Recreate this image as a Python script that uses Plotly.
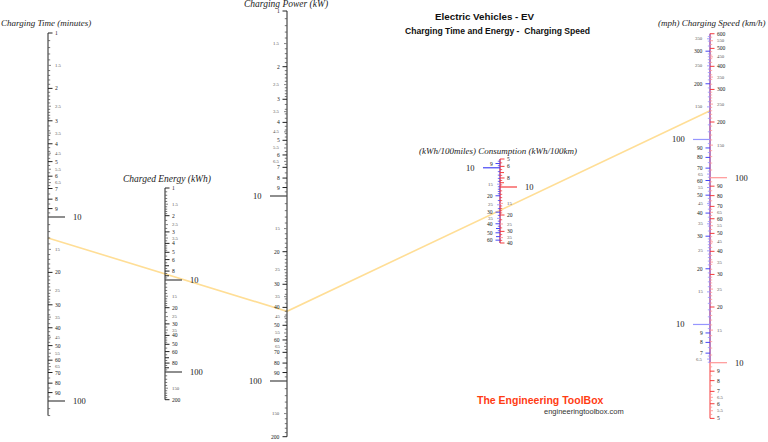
import numpy as np
import plotly.graph_objects as go

# ---------------- data: scale tick values ----------------
time_major = [1, 2, 3, 4, 5, 6, 7, 8, 9, 20, 30, 40, 50, 60, 70, 80, 90]
time_half = [1.5, 2.5, 3.5, 4.5, 5.5, 6.5, 15, 25, 35, 45, 55, 65]
time_decade = [10, 100]

energy_major = [1, 2, 3, 4, 5, 6, 8, 20, 30, 40, 50, 60, 80, 200]
energy_plain = [7, 9, 70, 90]
energy_half = [1.5, 2.5, 3.5, 15, 25, 35, 150]
energy_decade = [10, 100]

power_major = [1, 2, 3, 4, 5, 6, 7, 8, 9, 20, 30, 40, 50, 60, 70, 80, 90, 200]
power_half = [1.5, 2.5, 3.5, 4.5, 5.5, 6.5, 15, 25, 35, 45, 55, 65, 150]
power_decade = [10, 100]

cons_km_major = [5, 6, 8, 20, 30, 40]
cons_km_plain = [7, 9]
cons_km_half = [15, 25, 35]
cons_km_decade = [10]
cons_mi_major = [9, 20, 30, 40, 50, 60]
cons_mi_plain = [45, 55]
cons_mi_half = [15, 25, 35]
cons_mi_decade = [10]

speed_km_major = [5, 6, 7, 8, 9, 20, 30, 40, 50, 60, 70, 80, 90, 200, 300, 400, 500, 600]
speed_km_half = [5.5, 6.5, 15, 25, 35, 45, 55, 65, 150, 250, 350, 450, 550]
speed_km_decade = [10, 100]
speed_mph_major = [7, 8, 9, 20, 30, 40, 50, 60, 70, 80, 90, 200, 300]
speed_mph_half = [6.5, 15, 25, 35, 45, 55, 65, 150, 250, 350]
speed_mph_decade = [10, 100]

# example reading drawn on the nomogram
example_time_min = 13
example_energy_kwh = 9.1
example_power_kw = 42
example_consumption_kwh100km = 18.3
example_speed_kmh = 230

KM_PER_MILE = 1.609344

# ---------------- scale layout (positions / styles) ----------------
SERIF = "Liberation Serif, DejaVu Serif, serif"
SANS = "Liberation Sans, Arial, sans-serif"
BLUE = "rgb(70,70,245)"
BLUE_L = "rgb(150,150,255)"
RED = "rgb(245,60,60)"
RED_L = "rgb(255,150,150)"
DARK = "#1a1a1a"

S_TIME = dict(x=48, y1=33, m=184, dir=1, lo=1, hi=120)
S_ENERGY = dict(x=165, y1=188, m=92, dir=1, lo=1, hi=200)
S_POWER = dict(x=287, y1=11, m=185, dir=-1, lo=1, hi=200)
S_CKM = dict(x=500, y1=94, m=93, dir=1, lo=5, hi=40)
S_CMI = dict(x=500, y1=94 - 93 * np.log10(KM_PER_MILE), m=93, dir=-1,
             lo=5 * KM_PER_MILE, hi=40 * KM_PER_MILE)
S_SKM = dict(x=710, y1=547.7, m=-185, dir=1, lo=5, hi=600)
S_SMPH = dict(x=710, y1=547.7 - 185 * np.log10(KM_PER_MILE), m=-185, dir=-1,
              lo=10 / KM_PER_MILE, hi=600 / KM_PER_MILE)


def pos(s, v):
    return s["y1"] + s["m"] * np.log10(v)


def minor_values(s, pattern):
    vals = []
    dec = 10.0 ** np.floor(np.log10(s["lo"]))
    while dec <= s["hi"]:
        for a, b, st in pattern:
            for f in np.arange(a, b - 1e-9, st):
                v = round(f * dec, 6)
                if s["lo"] - 1e-9 <= v <= s["hi"] + 1e-9:
                    vals.append(v)
        dec *= 10
    return vals


FINE = [(1, 3, 0.1), (3, 5, 0.2), (5, 7, 0.25), (7, 10, 0.5)]
COARSE = [(1, 2, 0.1), (2, 5, 0.25), (5, 10, 0.5)]
CONS_KM = [(1, 2, 0.1), (2, 4, 0.25), (4, 10, 0.5)]

fig = go.Figure()


def add_line(xs, ys, color, width=1):
    fig.add_trace(go.Scatter(x=xs, y=ys, mode="lines",
                             line=dict(color=color, width=width),
                             hoverinfo="skip", showlegend=False))


def add_axis(s, color, width=1):
    add_line([s["x"], s["x"]], [pos(s, s["lo"]), pos(s, s["hi"])], color, width)


def add_ticks(s, vals, length, color, width=1):
    xs, ys = [], []
    for v in vals:
        y = pos(s, v)
        xs += [s["x"], s["x"] + s["dir"] * length, None]
        ys += [y, y, None]
    add_line(xs, ys, color, width)


def add_labels(s, vals, offset, size, color):
    for v in vals:
        fig.add_annotation(
            x=s["x"] + s["dir"] * offset, y=pos(s, v), text="%g" % v,
            xanchor="left" if s["dir"] > 0 else "right", yanchor="middle",
            showarrow=False, font=dict(size=size, color=color, family=SERIF),
            borderpad=0)


def build(s, major, half, decade, plain, pattern, c_major, c_minor,
          c_half, c_dec, c_text, c_half_text):
    labeled = set(major) | set(half) | set(decade) | set(plain)
    minors = [v for v in minor_values(s, pattern)
              if all(abs(v - w) > 1e-6 for w in labeled)]
    add_ticks(s, minors, 2.2, c_minor, 0.8)
    add_ticks(s, half, 3, c_half, 0.9)
    add_ticks(s, plain, 4, c_major, 1)
    add_ticks(s, major, 4.5, c_major, 1)
    add_ticks(s, decade, 17, c_dec, 1.2)
    add_labels(s, major, 6, 5.6, c_text)
    add_labels(s, half, 6, 4.8, c_half_text)
    add_labels(s, decade, 24, 8.5, c_text)


# yellow example line (time -> power -> speed)
yl_x = [S_TIME["x"], S_POWER["x"], S_SKM["x"]]
yl_y = [pos(S_TIME, example_time_min), pos(S_POWER, example_power_kw),
        pos(S_SKM, example_speed_kmh)]
add_line(yl_x, yl_y, "rgb(255,222,150)", 1.6)

# black scales
for s, ma, ha, de, pl, pat in [
    (S_TIME, time_major, time_half, time_decade, [], FINE),
    (S_ENERGY, energy_major, energy_half, energy_decade, energy_plain, COARSE),
    (S_POWER, power_major, power_half, power_decade, [], FINE),
]:
    add_axis(s, "#222", 1)
    build(s, ma, ha, de, pl, pat, "#222", "#555", "#777", "#444", DARK, "#555")

# consumption (blue miles / red km)
add_axis(S_CMI, BLUE, 1)
add_axis(S_CKM, RED, 1)
build(S_CMI, cons_mi_major, cons_mi_half, cons_mi_decade, cons_mi_plain, COARSE,
      BLUE, BLUE, BLUE_L, BLUE, DARK, "#555")
build(S_CKM, cons_km_major, cons_km_half, cons_km_decade, cons_km_plain, CONS_KM,
      RED, RED, RED_L, RED, DARK, "#555")

# speed (blue mph / red km/h)
add_axis(S_SKM, RED, 1)
add_axis(S_SMPH, "rgba(80,80,245,0.75)", 1)
build(S_SMPH, speed_mph_major, speed_mph_half, speed_mph_decade, [], FINE,
      BLUE, BLUE_L, BLUE_L, BLUE_L, DARK, "#555")
build(S_SKM, speed_km_major, speed_km_half, speed_km_decade, [], FINE,
      RED, RED_L, RED_L, RED_L, DARK, "#555")


# ---------------- titles ----------------
def note(x, y, text, size, family, color="#222", anchor="center"):
    fig.add_annotation(x=x, y=y, text=text, showarrow=False, xanchor=anchor,
                       yanchor="middle", font=dict(size=size, family=family,
                                                   color=color), borderpad=0)


note(0, 23, "<i>Charging Time (minutes)</i>", 9, SERIF, anchor="left")
note(167, 179, "<i>Charged Energy (kWh)</i>", 9.5, SERIF)
note(286, 4, "<i>Charging Power (kW)</i>", 9.5, SERIF)
note(498, 151, "<i>(kWh/100miles) Consumption (kWh/100km)</i>", 9, SERIF)
note(711, 23, "<i>(mph) Charging Speed (km/h)</i>", 9, SERIF)

note(485, 16, "<b>Electric Vehicles - EV</b>", 9.8, SANS, "#111")
note(497, 31, "<b>Charging Time and Energy -  Charging Speed</b>", 8.6, SANS, "#111")
note(540, 400, "<b>The Engineering ToolBox</b>", 10.5, SANS, "rgb(255,60,20)")
note(584, 411, "engineeringtoolbox.com", 7.5, SANS, "#333")

fig.update_layout(
    width=768, height=442, margin=dict(l=0, r=0, t=0, b=0),
    paper_bgcolor="white", plot_bgcolor="white", showlegend=False,
    xaxis=dict(range=[0, 768], visible=False, fixedrange=True),
    yaxis=dict(range=[442, 0], visible=False, fixedrange=True),
)

fig.write_html("out.html", config={"displayModeBar": False},
               post_script="document.body.style.margin='0';"
                           "document.body.style.overflow='hidden';")
